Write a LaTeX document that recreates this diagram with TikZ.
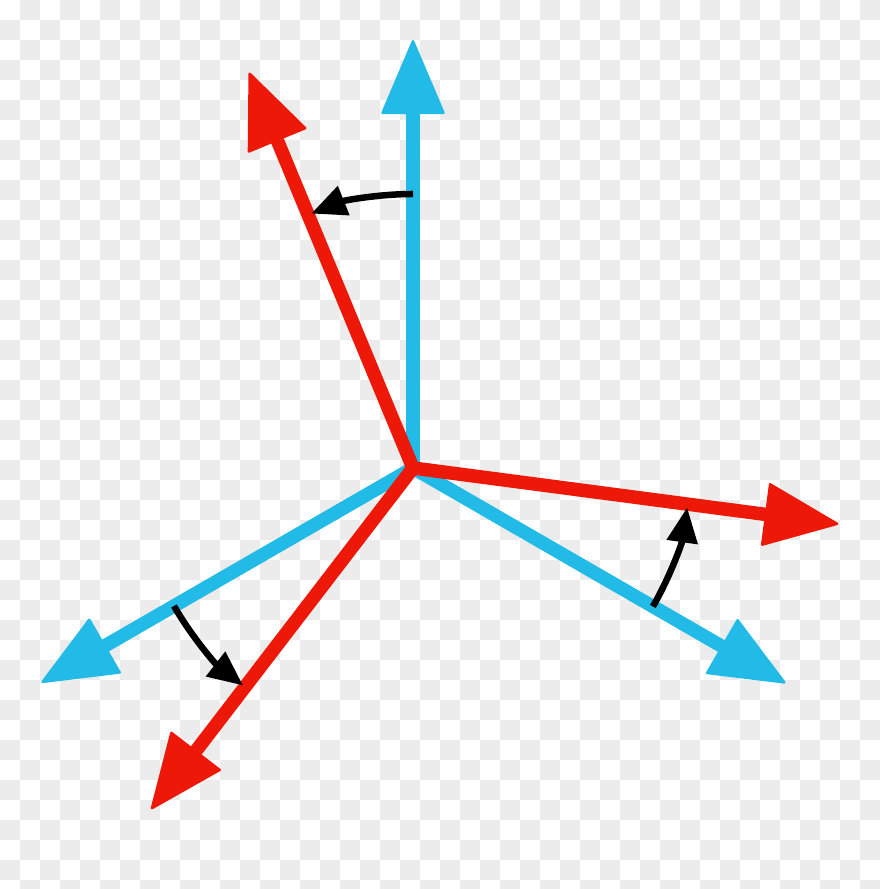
\documentclass[tikz,border=0pt]{standalone}
\usetikzlibrary{arrows.meta}
\definecolor{axis-blue}{RGB}{34,186,230}
\definecolor{axis-red}{RGB}{237,24,8}
\definecolor{chk-grey}{RGB}{236,236,236}

\begin{document}
\begin{tikzpicture}
    [x=0.02cm, y=0.02cm,
    old/.style = {draw=axis-blue, line width=0.27cm,
            -{Triangle[length=1.52cm, width=1.28cm, round, line width=0.05cm]}},
    new/.style = {draw=axis-red, line width=0.27cm,
            -{Triangle[length=1.52cm, width=1.28cm, round, line width=0.05cm]}},
    turn/.style = {draw=black, line width=0.13cm,
            -{Triangle[length=0.7cm, width=0.6cm]}},
    ]

\useasboundingbox (0, 0) rectangle (880, 889);

% checker background
\begin{scope}
\clip (0, 0) rectangle (880, 889);
\foreach \j in {0,...,44}
    \foreach \k in {0,...,21}
        \fill[chk-grey] ({20*(2*\k+mod(\j+1,2))}, {889-20*\j}) rectangle ++(20, -20);
\end{scope}

\coordinate (o) at (413, 421);

% old axes
\coordinate (bu) at ([shift={(90:428)}]o);
\coordinate (br) at ([shift={(-30:430)}]o);
\coordinate (bl) at ([shift={(210:429)}]o);
\draw[old] (o) -- (bu);
\draw[old] (o) -- (br);
\draw[old] (o) -- (bl);

% new axes
\coordinate (ru) at ([shift={(112.5:428)}]o);
\coordinate (rr) at ([shift={(-7.5:429)}]o);
\coordinate (rl) at ([shift={(232.5:430)}]o);
\draw[new] (o) -- (ru);
\draw[new] (o) -- (rr);
\draw[new] (o) -- (rl);

% rotation
\draw[turn] ([shift={(90:274)}]o) arc[start angle=90, end angle=111.8, radius=274];
\draw[turn] ([shift={(-30:277)}]o) arc[start angle=-30, end angle=-8.2, radius=277];
\draw[turn] ([shift={(210:276)}]o) arc[start angle=210, end angle=232, radius=276];

\end{tikzpicture}
\end{document}
